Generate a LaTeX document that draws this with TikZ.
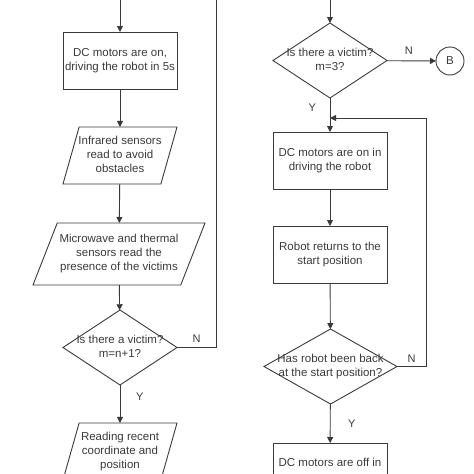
\documentclass[tikz,border=0pt]{standalone}
\usepackage{fontspec}
\setmainfont{Liberation Sans}
\usetikzlibrary{arrows.meta,shapes.geometric}
\definecolor{ink}{HTML}{3A3A3A}
\newcommand{\ztext}[1]{\makebox[0pt]{\begin{tabular}{@{}c@{}}#1\end{tabular}}}
\tikzset{
  every node/.style={font=\fontsize{11.5}{14}\selectfont, text=ink, outer sep=0pt, inner sep=0pt},
  procbox/.style={draw=ink, line width=0.9pt, rectangle, minimum width=114pt, minimum height=57pt, align=center},
  iobox/.style={draw=ink, line width=0.9pt, trapezium, trapezium stretches body=true, minimum height=57pt},
  askbox/.style={draw=ink, line width=0.9pt, diamond, minimum width=114pt, minimum height=75pt},
  flow/.style={draw=ink, line width=0.9pt, -{Triangle[length=6pt,width=6pt]}},
  link/.style={draw=ink, line width=0.9pt},
  tag/.style={font=\fontsize{11}{13}\selectfont}
}

\begin{document}
\begin{tikzpicture}[x=1pt,y=-1pt]
				\useasboundingbox (0,0) rectangle (474,474);
				\clip (0,0) rectangle (474,474);
				
				% left column
				\coordinate (topL) at (120,-5);
				\coordinate (topLoop) at (216,-5);
				\node[procbox] (motorsOn) at (120,60.5) {DC motors are on,\\driving the robot in 5s};
				\node[iobox, minimum width=114pt, trapezium left angle=69, trapezium right angle=111] (infrared) at (120,155.5) {\ztext{Infrared sensors\\read to avoid\\obstacles}};
				\node[iobox, minimum width=172pt, minimum height=62pt, trapezium left angle=60, trapezium right angle=120] (microwave) at (119,254) {\ztext{Microwave and thermal\\sensors read the\\presence of the victims}};
				\node[askbox] (victimOne) at (120,347.5) {\ztext{Is there a victim?\\m=n+1?}};
				\node[iobox, minimum width=114pt, trapezium left angle=69, trapezium right angle=111] (reading) at (120,451.5) {\ztext{Reading recent\\coordinate and\\position}};
				
				\draw[flow] (topL) -- (motorsOn.north);
				\draw[flow] (motorsOn) -- (infrared);
				\draw[flow] (infrared) -- (microwave);
				\draw[flow] (microwave) -- (victimOne);
				\draw[flow] (victimOne) -- node[tag, pos=0.3, right=16pt] {Y} (reading.north);
				\draw[link] (victimOne.east) -- node[tag, pos=0.5, above=5pt] {N} (victimOne.east -| topLoop) -- (topLoop);
				
				% right column
				\coordinate (topR) at (330,-5);
				\coordinate (loopR) at (426,118);
				\node[askbox] (victimTwo) at (330,60.5) {\ztext{Is there a victim?\\m=3?}};
				\node[circle, draw=ink, line width=0.9pt, minimum size=28pt] (B) at (450,61) {B};
				\node[procbox] (driving) at (330,160.5) {DC motors are on in\\driving the robot};
				\node[procbox] (returns) at (330,254.5) {Robot returns to the\\start position};
				\node[askbox, minimum width=133pt] (backStart) at (330.5,366.5) {\ztext{Has robot been back\\at the start position?}};
				\node[procbox] (motorsOff) at (330,471.5) {DC motors are off in\\\strut};
				
				\draw[flow] (topR) -- (victimTwo.north);
				\draw[flow] (victimTwo) -- node[tag, pos=0.45, above=6pt] {N} (B);
				\draw[flow] (victimTwo) -- node[tag, pos=0.3, left=14pt] {Y} (driving);
				\draw[flow] (driving) -- (returns);
				\draw[flow] (returns) -- (backStart);
				\draw[flow] (backStart) -- node[tag, pos=0.5, right=18pt] {Y} (motorsOff);
				\draw[flow] (backStart.east) -- node[tag, pos=0.5, above=4pt] {N} (backStart.east -| loopR) -- (loopR) -- (loopR -| driving.north);
\end{tikzpicture}
\end{document}
